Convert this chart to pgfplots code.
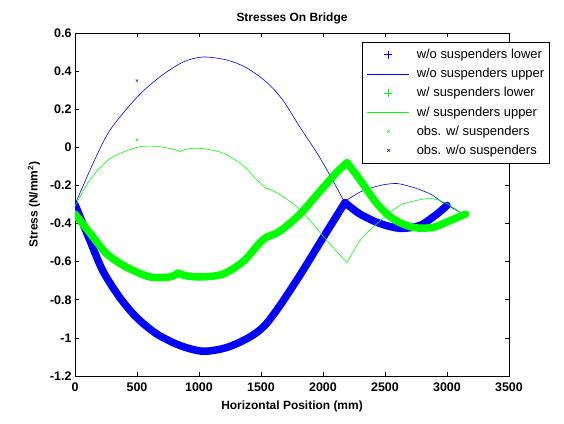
\documentclass[border=0pt]{standalone}
\usepackage{fontspec}
\setmainfont{Liberation Sans}
\usepackage{pgfplots}
\pgfplotsset{compat=1.18}

\definecolor{mblue}{RGB}{0,0,255}
\definecolor{mgreen}{RGB}{0,255,0}

\begin{document}
\begin{tikzpicture}
\begin{axis}[
  scale only axis,
  width=434bp, height=343bp,
  xmin=0, xmax=3500,
  ymin=-1.2, ymax=0.6,
  xtick={0,500,...,3500},
  ytick={-1.2,-1,-0.8,-0.6,-0.4,-0.2,0,0.2,0.4,0.6},
  tick align=inside,
  tick pos=both,
  major tick length=4bp,
  axis line style={black,line width=0.6bp},
  every tick/.style={black,line width=0.6bp},
  /pgf/number format/assume math mode=true,
  /pgf/number format/1000 sep={},
  tick label style={font=\fontsize{12.5}{13}\selectfont\bfseries},
  xticklabel style={yshift=-3bp},
  title={Stresses On Bridge},
  title style={font=\fontsize{12}{14}\selectfont\bfseries,yshift=-1bp},
  xlabel={Horizontal Position (mm)},
  ylabel={Stress (N/mm\textsuperscript{2})},
  xlabel style={yshift=-3bp},
  ylabel style={yshift=3bp},
  label style={font=\fontsize{12}{14}\selectfont\bfseries},
  legend image code/.code={\path (-2bp,0bp) (47bp,0bp);
    \draw[mark repeat=2,mark phase=2,#1]
    plot coordinates {(0bp,0bp) (21bp,0bp) (42bp,0bp)};},
  legend style={at={(0.661,0.974)},anchor=north west,draw=black,
    line width=0.6bp,fill=white,font=\fontsize{13}{14}\selectfont,
    inner xsep=3bp,inner ysep=5bp,row sep=4.3bp,
    cells={anchor=west}},
]
\addlegendimage{only marks,mark=+,mark size=4bp,mblue,line width=0.6bp}
\addlegendentry{w/o suspenders lower}
\addlegendimage{mblue,line width=0.6bp}
\addlegendentry{w/o suspenders upper}
\addlegendimage{only marks,mark=+,mark size=4bp,mgreen,line width=0.6bp}
\addlegendentry{w/ suspenders lower}
\addlegendimage{mgreen,line width=0.6bp}
\addlegendentry{w/ suspenders upper}
\addlegendimage{only marks,mark=x,mark size=1.8bp,mgreen,line width=0.5bp}
\addlegendentry{obs. w/ suspenders}
\addlegendimage{only marks,mark=x,mark size=1.8bp,mblue,line width=0.5bp}
\addlegendentry{obs. w/o suspenders}

% w/o suspenders lower (dense + markers, drawn as a wide band), two spans
\addplot[forget plot,mblue,line width=7.5bp,line cap=round,smooth] coordinates {
  (0,-0.30) (121,-0.49) (226,-0.65) (363,-0.79) (500,-0.895) (661,-0.98)
  (847,-1.04) (1032,-1.07) (1226,-1.05) (1411,-0.995) (1530,-0.935)
  (1653,-0.83) (1815,-0.67) (1976,-0.50) (2081,-0.39) (2177,-0.29)};
\addplot[forget plot,mblue,line width=7.5bp,line cap=round,smooth] coordinates {
  (2177,-0.29) (2298,-0.35) (2460,-0.40) (2621,-0.425) (2782,-0.41)
  (2919,-0.35) (3000,-0.305)};
% w/o suspenders upper
\addplot[forget plot,mblue,line width=0.6bp,smooth] coordinates {
  (0,-0.30) (145,-0.085) (282,0.09) (500,0.263) (685,0.37) (871,0.447)
  (1032,0.474) (1226,0.458) (1387,0.416) (1548,0.34) (1677,0.247)
  (1815,0.105) (1952,-0.03) (2056,-0.147) (2172,-0.285)};
\addplot[forget plot,mblue,line width=0.6bp,smooth] coordinates {
  (2172,-0.285) (2298,-0.235) (2403,-0.21) (2500,-0.195) (2597,-0.19)
  (2700,-0.205) (2782,-0.222) (2880,-0.25) (2968,-0.29) (3129,-0.35)};
% w/ suspenders lower
\addplot[forget plot,mgreen,line width=7.5bp,line cap=round,smooth] coordinates {
  (0,-0.35) (121,-0.45) (258,-0.56) (419,-0.63) (605,-0.68) (766,-0.68)
  (831,-0.66)};
\addplot[forget plot,mgreen,line width=7.5bp,line cap=round,smooth] coordinates {
  (831,-0.66) (903,-0.675) (1032,-0.68) (1194,-0.665) (1355,-0.60)
  (1492,-0.50) (1548,-0.47)};
\addplot[forget plot,mgreen,line width=7.5bp,line cap=round,smooth] coordinates {
  (1548,-0.47) (1653,-0.44) (1815,-0.35) (1976,-0.23) (2113,-0.13)
  (2194,-0.08)};
\addplot[forget plot,mgreen,line width=7.5bp,line cap=round,smooth] coordinates {
  (2194,-0.08) (2298,-0.17) (2435,-0.295) (2565,-0.375) (2726,-0.42)
  (2887,-0.42) (3024,-0.385) (3150,-0.35)};
% w/ suspenders upper
\addplot[forget plot,mgreen,line width=0.6bp,smooth] coordinates {
  (0,-0.31) (121,-0.17) (282,-0.06) (500,0.0) (661,0.005) (800,-0.012)
  (847,-0.022)};
\addplot[forget plot,mgreen,line width=0.6bp,smooth] coordinates {
  (847,-0.022) (900,-0.01) (1008,-0.005) (1194,-0.03) (1355,-0.095)
  (1450,-0.16) (1540,-0.215)};
\addplot[forget plot,mgreen,line width=0.6bp,smooth] coordinates {
  (1540,-0.215) (1597,-0.228) (1758,-0.295) (1895,-0.384) (2032,-0.49)
  (2194,-0.605)};
\addplot[forget plot,mgreen,line width=0.6bp,smooth] coordinates {
  (2194,-0.605) (2298,-0.49) (2435,-0.40) (2621,-0.305) (2782,-0.275)
  (2887,-0.27) (3000,-0.295) (3105,-0.34)};
% observations
\addplot[forget plot,only marks,mark=x,mark size=1.8bp,mgreen,line width=0.5bp]
  coordinates {(500,0.04)};
\addplot[forget plot,only marks,mark=x,mark size=1.8bp,mblue,line width=0.5bp]
  coordinates {(500,0.35)};
\end{axis}
\pgfresetboundingbox
\path[use as bounding box] ([xshift=-75bp,yshift=-48bp]current axis.south west)
  rectangle ([xshift=55bp,yshift=33bp]current axis.north east);
\end{tikzpicture}
\end{document}
